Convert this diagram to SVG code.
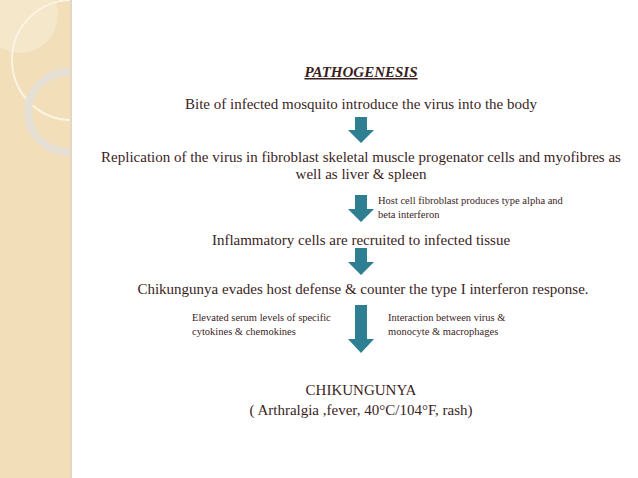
<svg xmlns="http://www.w3.org/2000/svg" width="638" height="478" viewBox="0 0 638 478">
<style>
text{font-family:'Liberation Serif','Times New Roman',serif;fill:#3a1e1e}
.t{font-size:15px;text-anchor:middle}
.s{font-size:10.5px}
.a{fill:#2f7f93}
</style>
<defs><clipPath id="band"><rect x="0" y="0" width="70" height="478"/></clipPath></defs>
<rect width="638" height="478" fill="#fff"/>
<g id="decor">
<rect x="0" y="0" width="70" height="478" fill="#f2dfb9"/>
<rect x="70" y="0" width="2" height="478" fill="#e4d6c0"/>
<g clip-path="url(#band)">
<circle cx="20" cy="15" r="38" fill="#f7ead2" opacity="0.7"/>
<circle cx="72" cy="60" r="60" fill="none" stroke="#fbf3e3" stroke-width="2"/>
<circle cx="68" cy="112" r="40" fill="none" stroke="#e6e0d4" stroke-width="8"/>
</g>
</g>
<g id="n0"><text class="t" font-family="Liberation Serif, serif" x="361" y="77" font-weight="bold" font-style="italic" text-decoration="underline">PATHOGENESIS</text></g>
<g id="n1"><text class="t" font-family="Liberation Serif, serif" x="361" y="109">Bite of infected mosquito introduce the virus into the body</text></g>
<g id="n2"><text class="t" font-family="Liberation Serif, serif" x="361" y="162">Replication of the virus in fibroblast skeletal muscle progenator cells and myofibres as</text><text class="t" font-family="Liberation Serif, serif" x="361" y="179">well as liver &amp; spleen</text></g>
<g id="l1"><text class="s" font-family="Liberation Serif, serif" x="378" y="204">Host cell fibroblast produces type alpha and</text><text class="s" font-family="Liberation Serif, serif" x="378" y="218">beta interferon</text></g>
<g id="n3"><text class="t" font-family="Liberation Serif, serif" x="361" y="245">Inflammatory cells are recruited to infected tissue</text></g>
<g id="n4"><text class="t" font-family="Liberation Serif, serif" x="363" y="294">Chikungunya evades host defense &amp; counter the type I interferon response.</text></g>
<g id="l2"><text class="s" font-family="Liberation Serif, serif" x="192" y="321">Elevated serum levels of specific</text><text class="s" font-family="Liberation Serif, serif" x="192" y="335">cytokines &amp; chemokines</text></g>
<g id="l3"><text class="s" font-family="Liberation Serif, serif" x="388" y="321">Interaction between virus &amp;</text><text class="s" font-family="Liberation Serif, serif" x="388" y="335">monocyte &amp; macrophages</text></g>
<g id="n5"><text class="t" font-family="Liberation Serif, serif" x="361" y="395">CHIKUNGUNYA</text><text class="t" font-family="Liberation Serif, serif" x="361" y="415">( Arthralgia ,fever, 40°C/104°F, rash)</text></g>
<g id="connectors">
<path class="a" d="M355 117h12v13h7l-13 13l-13-13h7z"/>
<path class="a" d="M355 195h12v14h7l-13 13l-13-13h7z"/>
<path class="a" d="M355 248h12v14h7l-13 13l-13-13h7z"/>
<path class="a" d="M355 305h12v34h7l-13 14l-13-14h7z"/>
</g>
</svg>
